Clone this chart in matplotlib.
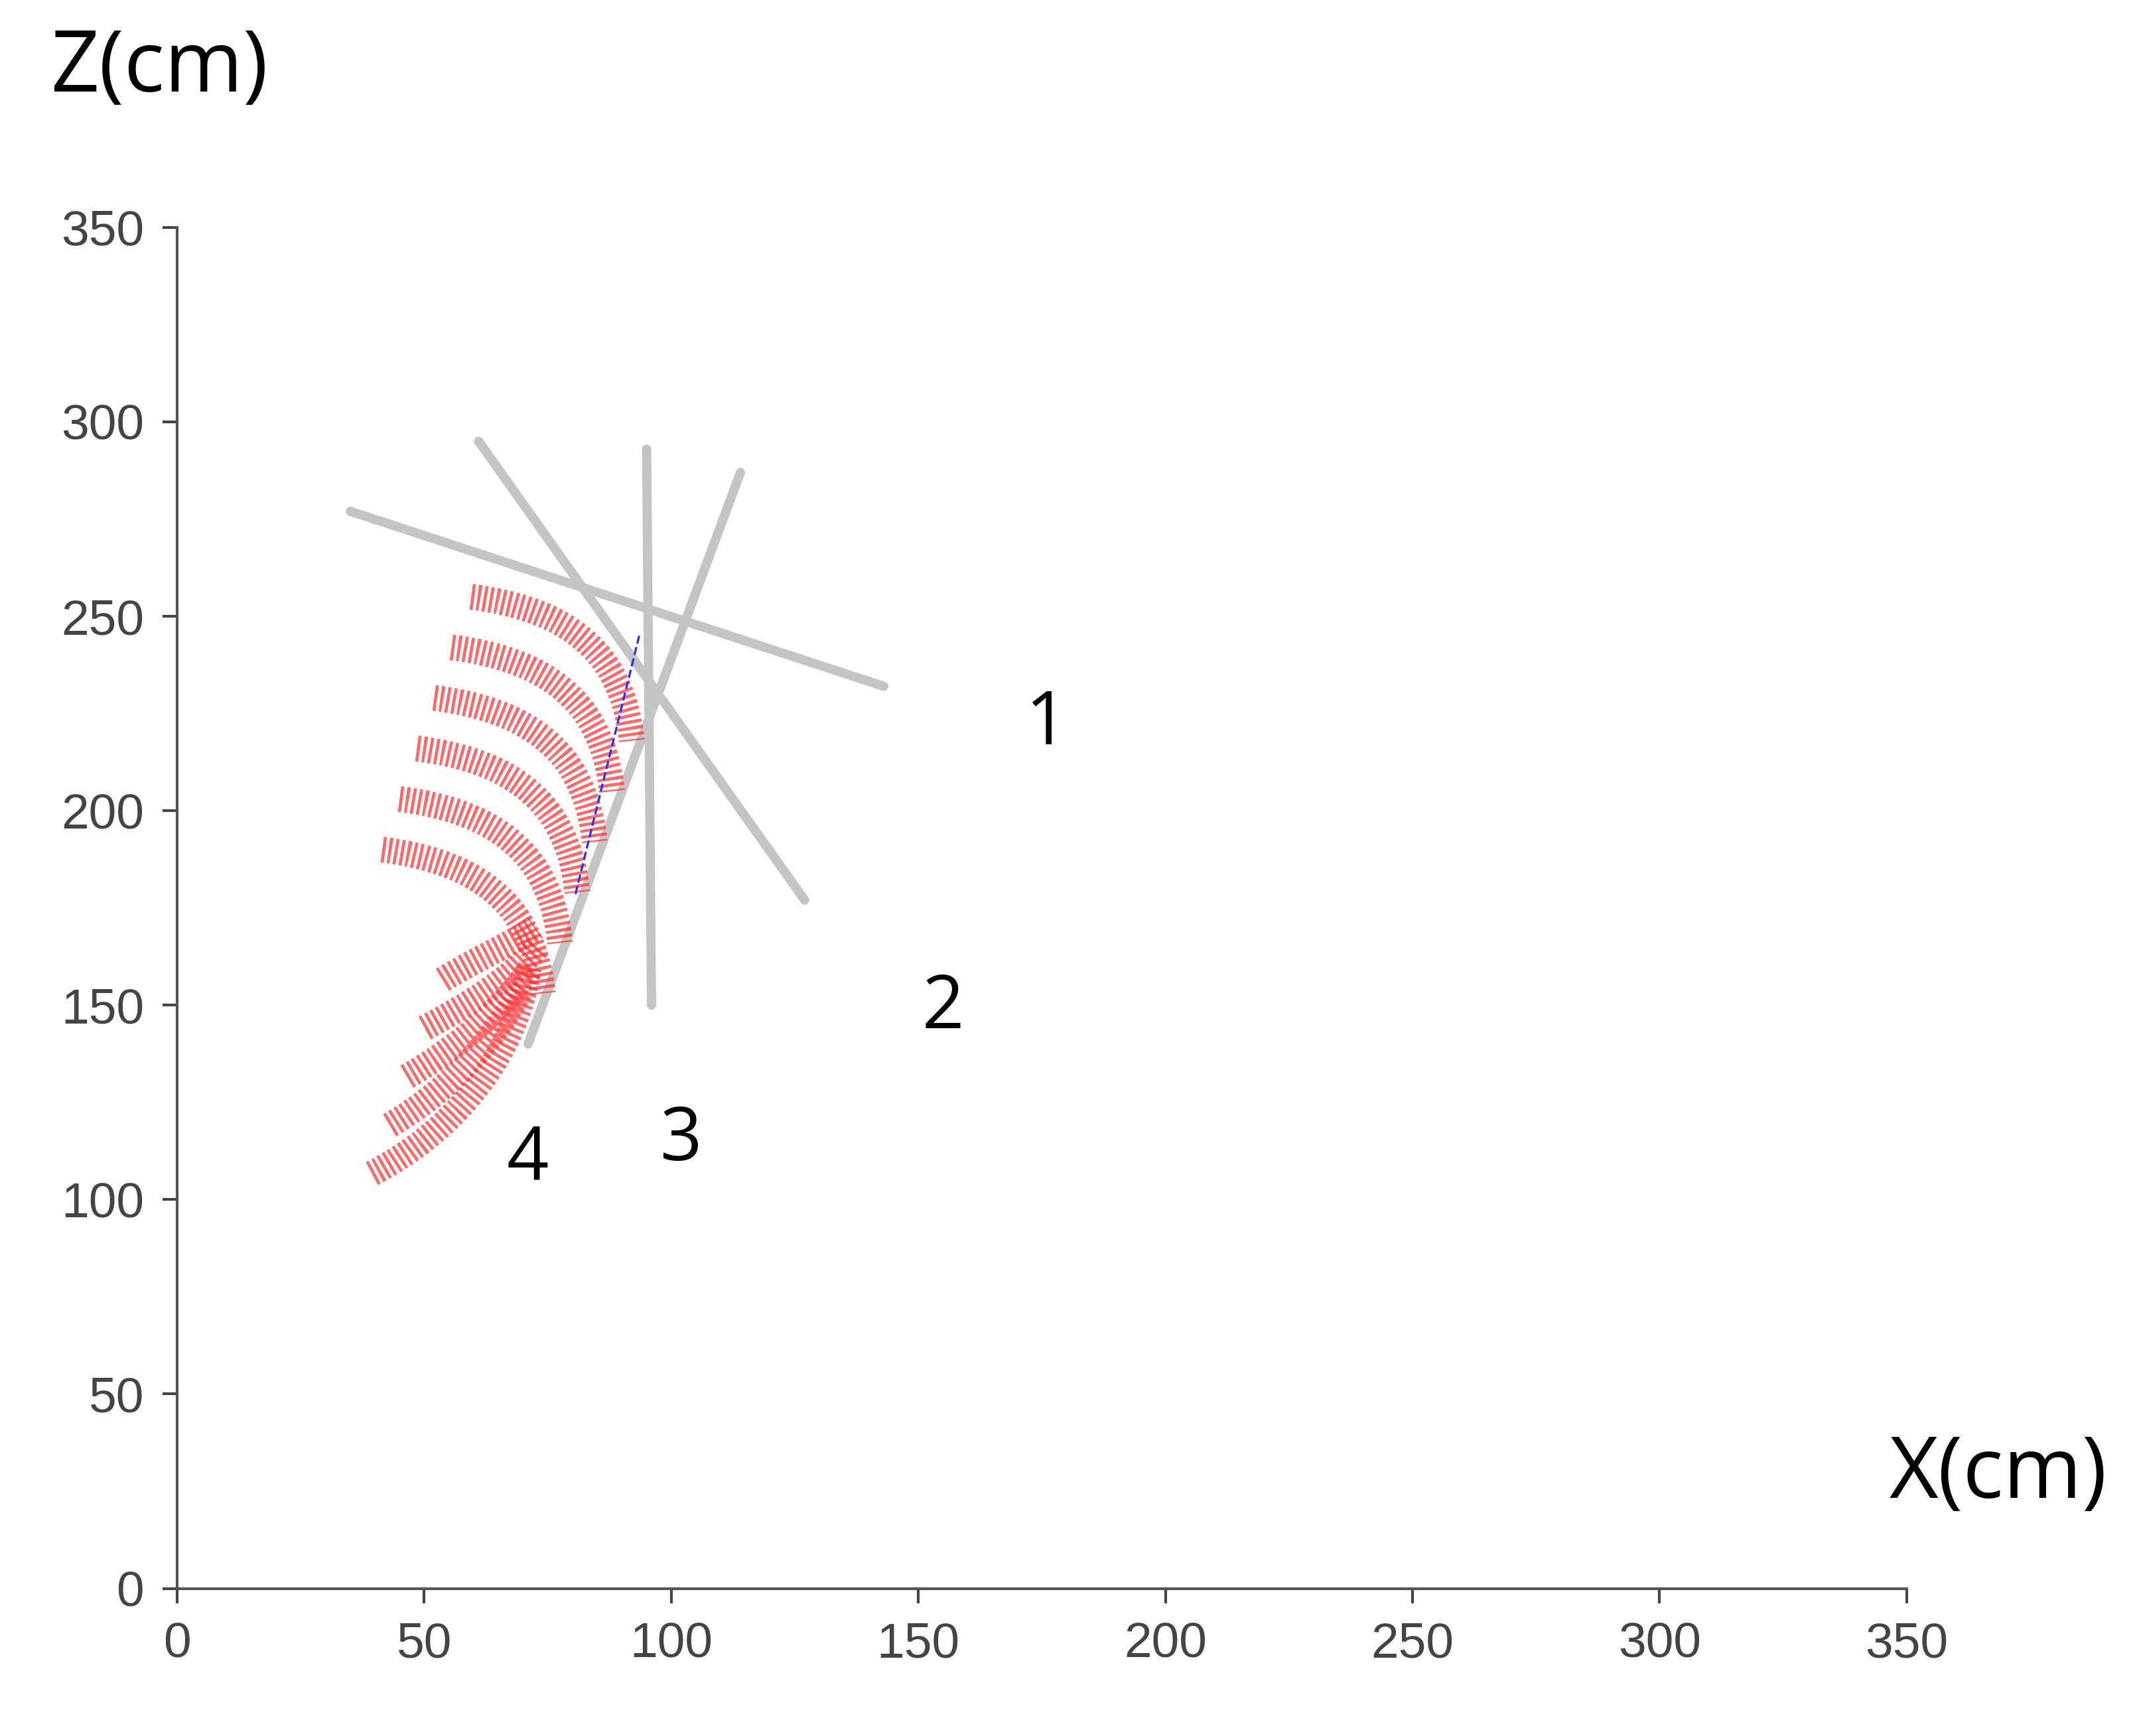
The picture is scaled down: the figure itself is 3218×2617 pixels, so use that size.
import matplotlib
matplotlib.use("Agg")
import matplotlib.pyplot as plt
from matplotlib.path import Path
from matplotlib.patches import PathPatch

# gray lines (x0, z0, x1, z1)
gray_lines = [
    (35, 277, 143, 232),
    (61, 295, 127, 177),
    (95, 293, 96, 150),
    (114, 287, 71, 140),
]
labels = ["1", "2", "3", "4"]
label_x = [176, 155, 102, 71]
label_z = [222, 149, 115, 110]

# start, control, control, end for each arc
upper_arcs_x = [
    [59.5, 78.0, 90.0, 92.0],
    [55.5, 74.0, 86.0, 88.0],
    [52.0, 70.5, 82.5, 84.5],
    [48.5, 67.0, 79.0, 81.0],
    [45.0, 63.5, 75.5, 77.5],
    [41.5, 60.0, 72.0, 74.0],
]
upper_arcs_z = [
    [255.0, 252.0, 242.0, 218.0],
    [242.0, 239.0, 229.0, 205.0],
    [229.0, 226.0, 216.0, 192.0],
    [216.0, 213.0, 203.0, 179.0],
    [203.0, 200.0, 190.0, 166.0],
    [190.0, 187.0, 177.0, 153.0],
]
lower_arcs_x = [
    [53.7, 60.9, 68.0, 72.5],
    [50.1, 59.1, 67.1, 72.9],
    [46.5, 56.4, 65.3, 71.6],
    [43.0, 54.1, 63.1, 69.8],
    [39.4, 55.0, 68.0, 71.2],
]
lower_arcs_z = [
    [156.5, 162.2, 165.9, 170.0],
    [144.1, 150.3, 156.5, 164.8],
    [131.6, 138.9, 148.2, 159.6],
    [119.1, 127.4, 138.9, 154.4],
    [106.7, 117.0, 135.0, 159.6],
]
blue_x = [93.5, 80.5]
blue_z = [245.0, 178.0]

xticks = [0, 50, 100, 150, 200, 250, 300, 350]
yticks = [0, 50, 100, 150, 200, 250, 300, 350]

fig = plt.figure(figsize=(16.09, 13.085), dpi=200)
ax = fig.add_axes([0.083, 0.085, 0.810, 0.784])
ax.set_xlim(0, 350)
ax.set_ylim(0, 350)

for x0, z0, x1, z1 in gray_lines:
    ax.plot([x0, x1], [z0, z1], color="#c4c4c4", lw=5, solid_capstyle="round", zorder=2)

def band(xs, zs):
    pts = list(zip(xs, zs))
    codes = [Path.MOVETO, Path.CURVE4, Path.CURVE4, Path.CURVE4]
    p = PathPatch(Path(pts, codes), facecolor="none", edgecolor="#ff3535",
                  alpha=0.75, lw=14, linestyle=(0, (0.12, 0.12)), zorder=3)
    ax.add_patch(p)

for xs, zs in list(zip(upper_arcs_x, upper_arcs_z)) + list(zip(lower_arcs_x, lower_arcs_z)):
    band(xs, zs)

ax.plot(blue_x, blue_z, color="#3030ff", lw=1.2, ls="--", zorder=4)

for t, x, z in zip(labels, label_x, label_z):
    ax.text(x, z, t, fontsize=40, ha="center", va="center", family="Open Sans")

for s in ["top", "right"]:
    ax.spines[s].set_visible(False)
for s in ["left", "bottom"]:
    ax.spines[s].set_color("#555555")
    ax.spines[s].set_linewidth(1.5)
ax.set_xticks(xticks)
ax.set_yticks(yticks)
ax.tick_params(labelsize=27, colors="#444444", length=8, width=1.5, pad=10)
for lab in ax.get_xticklabels() + ax.get_yticklabels():
    lab.set_family("Liberation Sans")

fig.text(0.0745, 0.96, "Z(cm)", fontsize=46, ha="center", va="center", family="Open Sans")
fig.text(0.936, 0.150, "X(cm)", fontsize=46, ha="center", va="center", family="Open Sans")

fig.savefig("out.png", dpi=200, facecolor="white")
